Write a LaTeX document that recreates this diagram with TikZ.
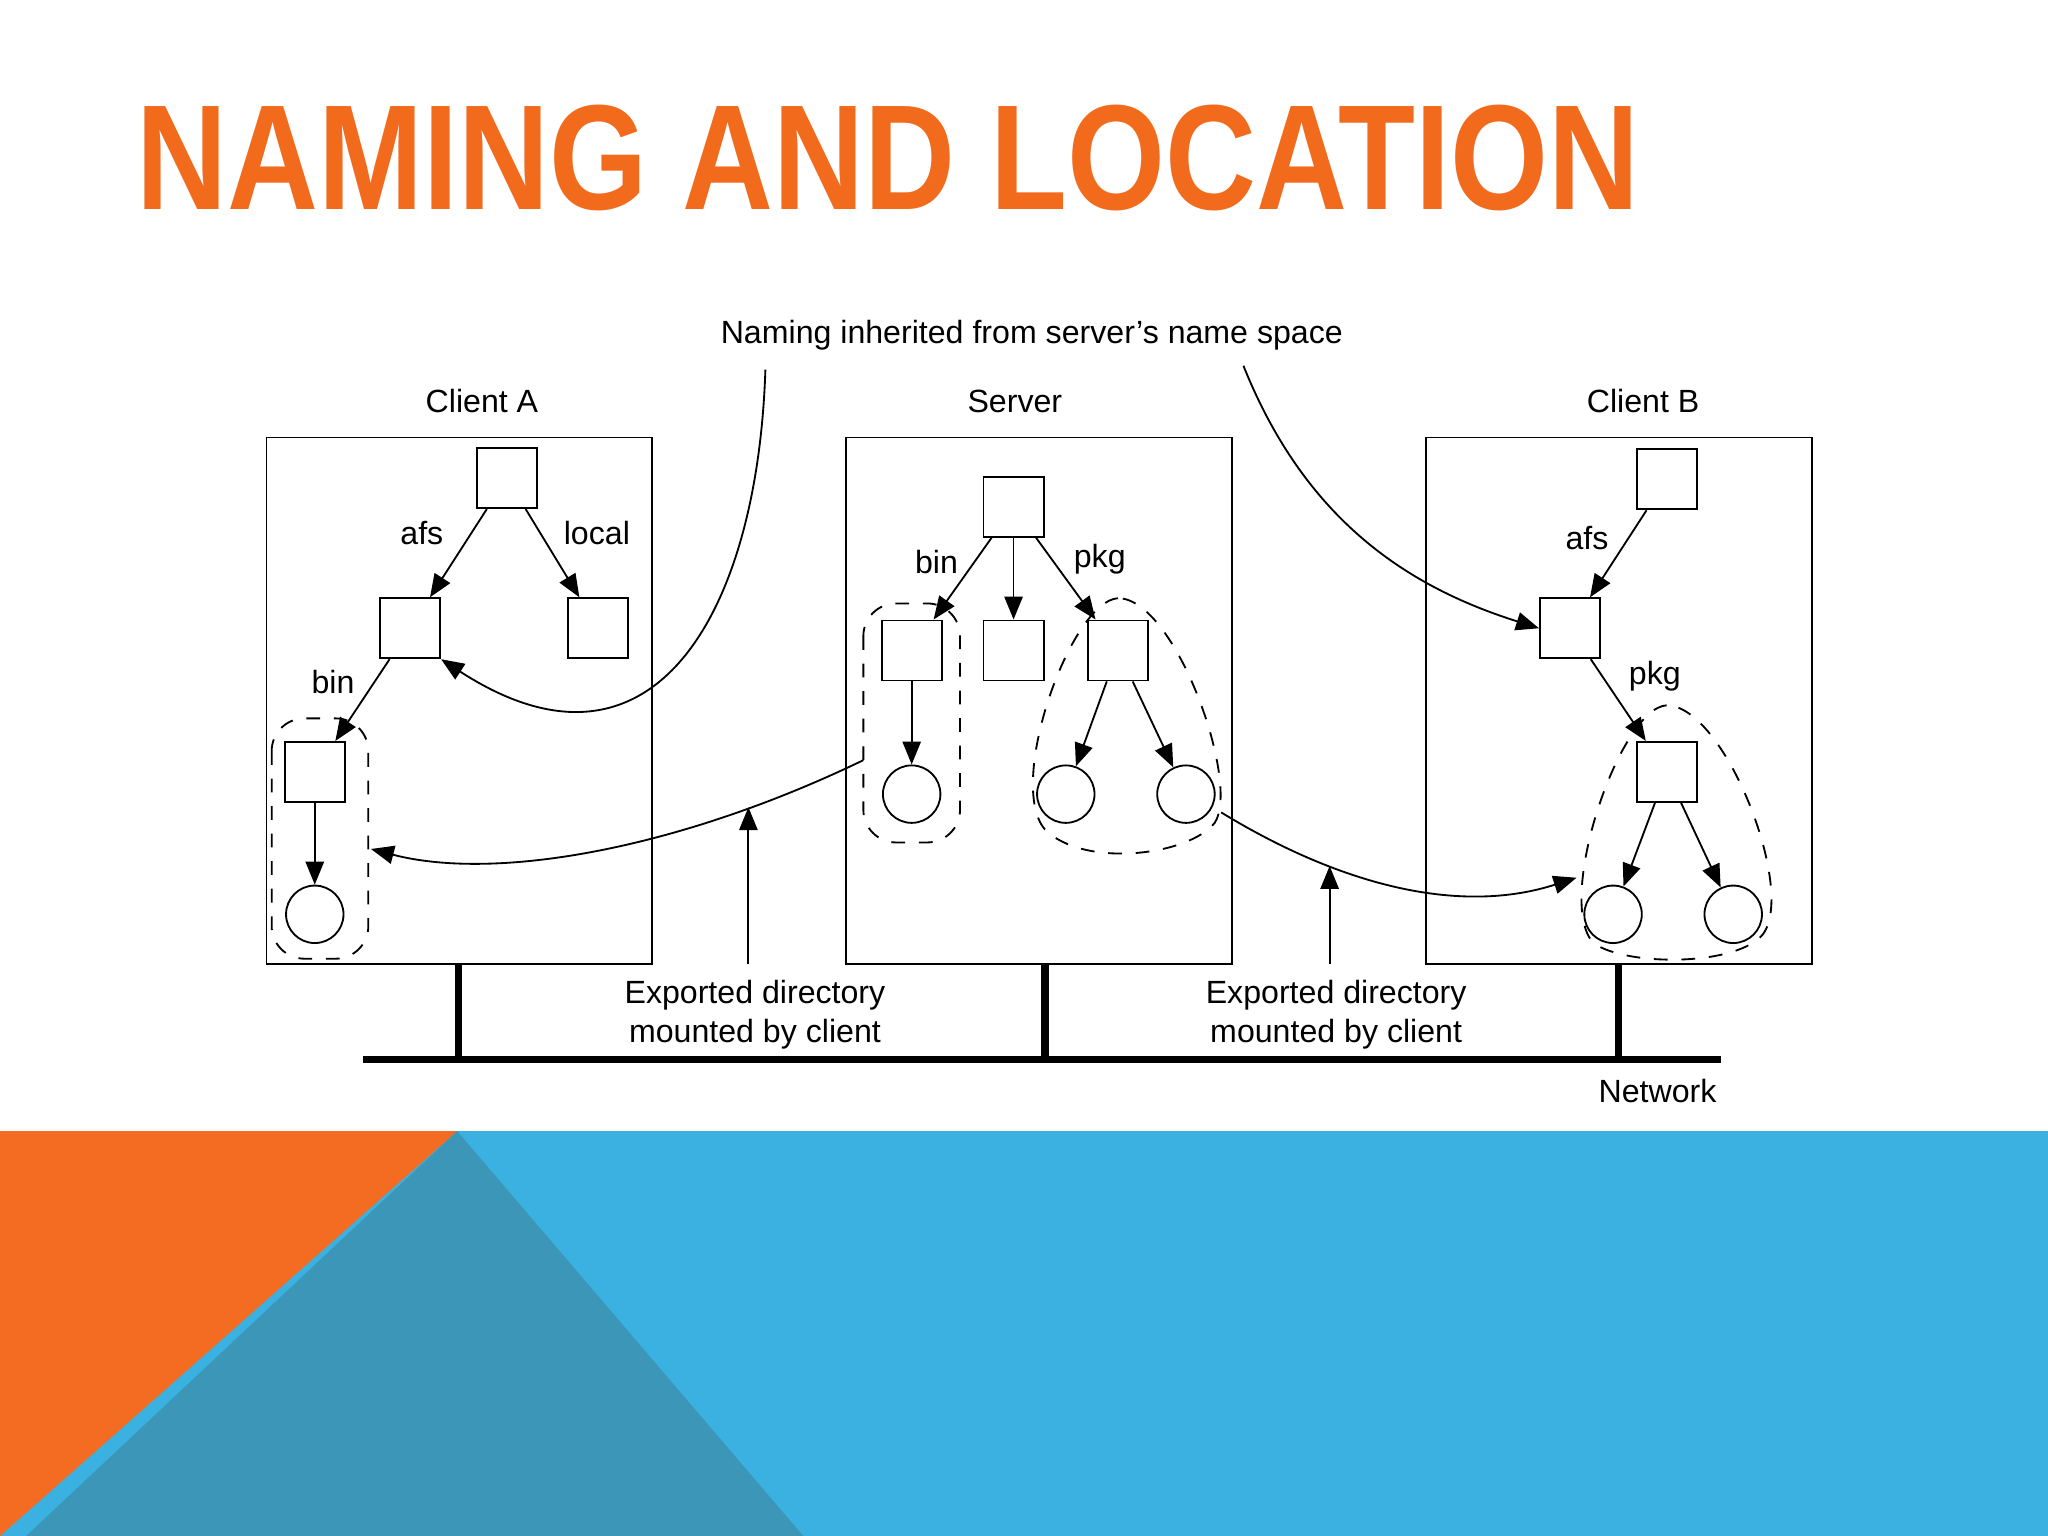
\documentclass[tikz,border=0pt]{standalone}
\usepackage{fontspec}
\setmainfont{Liberation Sans}
\usetikzlibrary{arrows.meta}
\definecolor{ttlorange}{HTML}{F26A1B}
\definecolor{slideorange}{HTML}{F36C21}
\definecolor{slideblue}{HTML}{3AB1E0}
\definecolor{slideteal}{HTML}{3C96B8}
\tikzset{
  dir/.style={draw, minimum size=4.6mm, inner sep=0pt},
  file/.style={draw, circle, minimum size=4.4mm, inner sep=0pt},
  host/.style={draw, thin},
  lbl/.style={font=\fontsize{7}{8.5}\selectfont, inner sep=1pt},
  arr/.style={-{Triangle[length=5pt,width=4pt]}, thin},
  exp/.style={draw, dashed, thin, rounded corners=2.5mm}
}
\begin{document}
\begin{tikzpicture}[x=0.1mm, y=-0.1mm]
  % page and background
  \useasboundingbox (0,0) rectangle (1568,1176);
  \fill[white] (0,0) rectangle (1568,866);
  \fill[slideblue] (0,866) rectangle (1568,1176);
  \fill[slideorange] (0,866) -- (350,866) -- (0,1176) -- cycle;
  \fill[slideteal] (350,866) -- (615,1176) -- (20,1176) -- cycle;

  % title
  \node (title) at (680,121) {\resizebox{11.5cm}{0.8cm}{\color{ttlorange}\bfseries NAMING AND LOCATION}};

  % hosts
  \draw[host] (204,335) rectangle (499,738);
  \draw[host] (648,335) rectangle (943,738);
  \draw[host] (1092,335) rectangle (1387,738);
  \node[lbl] (cla) at (369,307) {Client A};
  \node[lbl] (srv) at (777,307) {Server};
  \node[lbl] (clb) at (1258,307) {Client B};
  \node[lbl] (inh) at (790,257) {Naming inherited from server's name space};

  % client A tree
  \node[dir] (aroot) at (388,366) {};
  \node[dir] (aafs) at (314,481) {};
  \node[dir] (alocal) at (458,481) {};
  \node[dir] (abin) at (241,591) {};
  \node[file] (af) at (241,700) {};
  \draw[arr] (aroot) -- (aafs);
  \draw[arr] (aroot) -- (alocal);
  \draw[arr] (aafs) -- (abin);
  \draw[arr] (abin) -- (af);
  \node[lbl] at (323,408) {afs};
  \node[lbl] at (457,408) {local};
  \node[lbl] at (255,522) {bin};
  \draw[exp] (208,550) rectangle (282,734);

  % server tree
  \node[dir] (sroot) at (776,388) {};
  \node[dir] (sbin) at (698,498) {};
  \node[dir] (smid) at (776,498) {};
  \node[dir] (spkg) at (856,498) {};
  \node[file] (sf1) at (698,608) {};
  \node[file] (sf2) at (816,608) {};
  \node[file] (sf3) at (908,608) {};
  \draw[arr] (sroot) -- (sbin);
  \draw[arr] (sroot) -- (smid);
  \draw[arr] (sroot) -- (spkg);
  \draw[arr] (sbin) -- (sf1);
  \draw[arr] (spkg) -- (sf2);
  \draw[arr] (spkg) -- (sf3);
  \node[lbl] at (717,430) {bin};
  \node[lbl] at (842,428) {pkg};
  \draw[exp] (661,462) rectangle (735,645);
  \draw[dashed, thin] (856,458) .. controls (820,460) and (770,600) .. (800,635)
    .. controls (830,665) and (910,655) .. (930,630)
    .. controls (950,600) and (900,458) .. (856,458);

  % client B tree
  \node[dir] (broot) at (1276,367) {};
  \node[dir] (bafs) at (1202,481) {};
  \node[dir] (bpkg) at (1276,591) {};
  \node[file] (bf1) at (1235,700) {};
  \node[file] (bf2) at (1327,700) {};
  \draw[arr] (broot) -- (bafs);
  \draw[arr] (bafs) -- (bpkg);
  \draw[arr] (bpkg) -- (bf1);
  \draw[arr] (bpkg) -- (bf2);
  \node[lbl] at (1215,412) {afs};
  \node[lbl] at (1267,518) {pkg};
  \draw[dashed, thin] (1276,540) .. controls (1240,542) and (1190,690) .. (1220,722)
    .. controls (1245,740) and (1330,740) .. (1350,715)
    .. controls (1375,680) and (1320,540) .. (1276,540);

  % network
  \draw[line width=1.6pt] (278,811) -- (1318,811);
  \foreach \x in {351,800,1239}
    \draw[line width=1.6pt] (\x,738) -- (\x,811);
  \node[lbl] (net) at (1269,835) {Network};
  \node[lbl, align=center] (expa) at (578,777) {Exported directory\\mounted by client};
  \node[lbl, align=center] (expb) at (1023,777) {Exported directory\\mounted by client};
  \coordinate (pa) at (573,618);
  \coordinate (pb) at (1018,663);
  \draw[arr] (573,738) -- (pa);
  \draw[arr] (1018,738) -- (pb);

  % mount and naming curves
  \draw[arr] (586,283) .. controls (580,470) and (500,610) .. (aafs.south east);
  \draw[arr] (952,280) .. controls (1000,400) and (1080,450) .. (bafs.west);
  \draw[arr] (661,582) .. controls (520,650) and (380,675) .. (284,650);
  \draw[arr] (935,622) .. controls (1030,680) and (1120,700) .. (1207,672);
\end{tikzpicture}
\end{document}
